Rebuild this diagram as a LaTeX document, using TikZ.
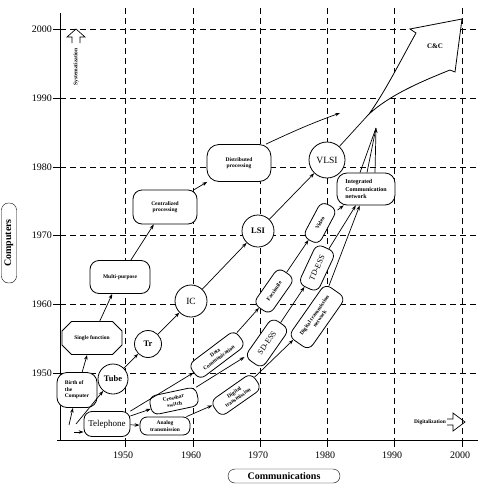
\documentclass[tikz,border=0pt]{standalone}
\usepackage{fontspec}
\setmainfont{Liberation Serif}
\usetikzlibrary{arrows.meta,shapes.misc}
\begin{document}
\begin{tikzpicture}[x=1pt,y=-1pt,
 gridline/.style={dash pattern=on 6pt off 4pt, line width=0.8pt},
 ax/.style={line width=1pt},
 yr/.style={font=\fontsize{10}{12}\selectfont, inner sep=0pt},
 circ/.style={draw, circle, fill=white, line width=0.8pt, inner sep=0pt, font=\fontsize{8.5}{9}\selectfont\bfseries},
 box/.style={draw, fill=white, rounded corners=9pt, line width=0.8pt, align=center, inner sep=1pt, font=\fontsize{5.5}{6.5}\selectfont\bfseries},
 pill/.style={draw, fill=white, rounded corners=7pt, line width=0.8pt, align=center, inner sep=1pt, font=\fontsize{5.5}{6.5}\selectfont\bfseries},
 arr/.style={-{Stealth[length=5pt,width=3.5pt]}, line width=0.7pt},
 ln/.style={line width=0.7pt},
]
\useasboundingbox (0,0) rectangle (481,490);

% grid
\foreach \x in {125,193,260,327,394,462} \draw[gridline] (\x,8) -- (\x,440);
\foreach \y in {373,304,235,167,98,29} \draw[gridline] (60,\y) -- (478,\y);

% axes
\draw[ax] (60,13) -- (60,440);
\draw[ax] (57,440) -- (478,440);
\foreach \y/\t in {373/1950,304/1960,235/1970,167/1980,98/1990,29/2000}{
  \draw[ax] (53,\y) -- (60,\y);
  \node[yr, anchor=east] (ylab\t) at (52,\y) {\t};
}
\foreach \x/\t in {125/1950,193/1960,260/1970,327/1980,394/1990,462/2000}{
  \draw[ax] (\x,440) -- (\x,447);
  \node[yr] (xlab\t) at (\x-2,455) {\t};
}

% axis titles
\node[draw, rounded corners=7pt, rotate=90, font=\fontsize{10}{11}\selectfont\bfseries, minimum width=80pt, minimum height=15pt, inner sep=1pt] (comp) at (9,243) {Computers};
\node[draw, rounded corners=7pt, font=\fontsize{10}{11}\selectfont\bfseries, minimum width=112pt, minimum height=14pt, inner sep=1pt] (comm) at (284,476) {Communications};

% systematization
\node[rotate=90, font=\fontsize{5.5}{6}\selectfont\bfseries, inner sep=0pt] (sys) at (76,67) {Systematization};
\draw[ln] (72,43) -- (72,37) -- (67,37) -- (76,29) -- (85,37) -- (80,37) -- (80,43);

% digitalization
\node[anchor=east, font=\fontsize{5.5}{6}\selectfont\bfseries, inner sep=0pt] (dig) at (446,422) {Digitalization};
\draw[ln] (447,419) -- (453,419) -- (453,413) -- (465,422) -- (453,431) -- (453,425) -- (447,425);

% computer line
\node[box, rounded corners=10pt, minimum width=40pt, minimum height=35pt, align=left] (birth) at (77,390) {Birth of\\the\\Computer};
\node[draw, fill=white, chamfered rectangle, chamfered rectangle xsep=4pt, chamfered rectangle ysep=6pt, line width=0.8pt, minimum width=60pt, minimum height=33pt, inner sep=1pt, font=\fontsize{5.5}{6.5}\selectfont\bfseries] (single) at (92,338) {Single function};
\node[box, minimum width=60pt, minimum height=33pt] (multi) at (120,277) {Multi-purpose};
\node[box, minimum width=64pt, minimum height=34pt] (central) at (165,207) {Centralized\\processing};
\node[box, rounded corners=12pt, minimum width=64pt, minimum height=37pt] (distrib) at (239,163) {Distributed\\processing};
\coordinate (dEnd) at (340,113);

% device line
\node[circ, minimum size=30pt] (tube) at (113,379) {Tube};
\node[circ, minimum size=27pt] (tr) at (148,344) {Tr};
\node[circ, minimum size=32pt, font=\fontsize{9.5}{10}\selectfont] (ic) at (191,301) {IC};
\node[circ, minimum size=32pt] (lsi) at (258,231) {LSI};
\node[circ, minimum size=36pt, font=\fontsize{9.5}{10}\selectfont] (vlsi) at (327,160) {VLSI};

% communication line
\node[draw, fill=white, rounded corners=8pt, line width=0.8pt, minimum width=46pt, minimum height=25pt, inner sep=1pt, font=\fontsize{9}{10}\selectfont] (tel) at (107,424) {Telephone};
\node[pill, rotate=12, minimum width=48pt, minimum height=19pt] (cross) at (174,401) {Crossbar\\switch};
\node[pill, minimum width=50pt, minimum height=18pt] (analog) at (165,426) {Analog\\transmission};
\node[pill, rotate=37, minimum width=58pt, minimum height=19pt] (datac) at (217,355) {Data\\Communication};
\node[pill, rotate=35, minimum width=50pt, minimum height=19pt] (digt) at (236,395) {Digital\\transmission};
\node[pill, rotate=55, minimum width=48pt, minimum height=21pt, font=\fontsize{8}{9}\selectfont] (sdess) at (267,343) {SD-ESS};
\node[pill, rotate=55, minimum width=44pt, minimum height=20pt] (facs) at (274,291) {Facsimile};
\node[pill, rotate=62, minimum width=40pt, minimum height=18pt] (video) at (320,223) {Video};
\node[pill, rotate=65, minimum width=44pt, minimum height=21pt, font=\fontsize{8}{9}\selectfont] (tdess) at (317,268) {TD-ESS};
\node[pill, rotate=55, minimum width=64pt, minimum height=25pt] (dtn) at (317,317) {Digital transmission\\network};
\node[box, rounded corners=10pt, minimum width=58pt, minimum height=32pt, align=left, font=\fontsize{6}{7.5}\selectfont\bfseries] (integ) at (366,189) {Integrated\\Communication\\network};
\coordinate (iTop) at (376,128);

% C&C arrow
\coordinate (ccP) at (369,114);
\draw[line width=0.8pt, fill=white] (ccP) .. controls (385,92) and (402,58) .. (416,33) -- (410,29) -- (462,19) -- (455,72) -- (450,70) .. controls (420,82) and (390,95) .. (ccP) -- cycle;
\node[font=\fontsize{7}{8}\selectfont\bfseries] (cc) at (435,46) {C\&C};

% start arrows
\coordinate (s1) at (69,425);
\coordinate (s2) at (76,424);
\coordinate (s3) at (74,432);
\draw[arr] (s1) -- (birth);
\draw[arr] (s2) -- (tube);
\draw[arr] (s3) -- (s3 -| tel.west);

% connectors
\draw[arr] (birth) -- (single);
\draw[arr] (single) -- (multi);
\draw[arr] (multi) -- (central);
\draw[arr] (central) -- (distrib);
\draw[arr] (distrib.35) to[out=25,in=200] (dEnd);
\draw[arr] (tube) -- (tr);
\draw[arr] (tr) -- (ic);
\draw[arr] (ic) -- (lsi);
\draw[arr] (lsi) -- (vlsi);
\draw[ln] (vlsi) -- (ccP);
\draw[arr] (tel) -- (cross);
\draw[arr] (tel) -- (analog);
\draw[arr] (tel.north east) -- (datac.west);
\draw[arr] (analog) -- (digt);
\draw[arr] (cross) -- (sdess);
\draw[arr] (datac) -- (facs);
\draw[arr] (sdess) -- (tdess);
\draw[arr] (digt) -- (dtn);
\draw[arr] (facs) -- (video);
\draw[arr] (video) -- (integ);
\draw[arr] (tdess) -- (integ);
\draw[arr] (dtn) -- (integ);
\draw[ln] ([xshift=-6pt]integ.north) -- (iTop);
\draw[ln] ([xshift=1pt]integ.north) -- (iTop);
\draw[arr] ([xshift=9pt]integ.north) -- (iTop);
\end{tikzpicture}
\end{document}
